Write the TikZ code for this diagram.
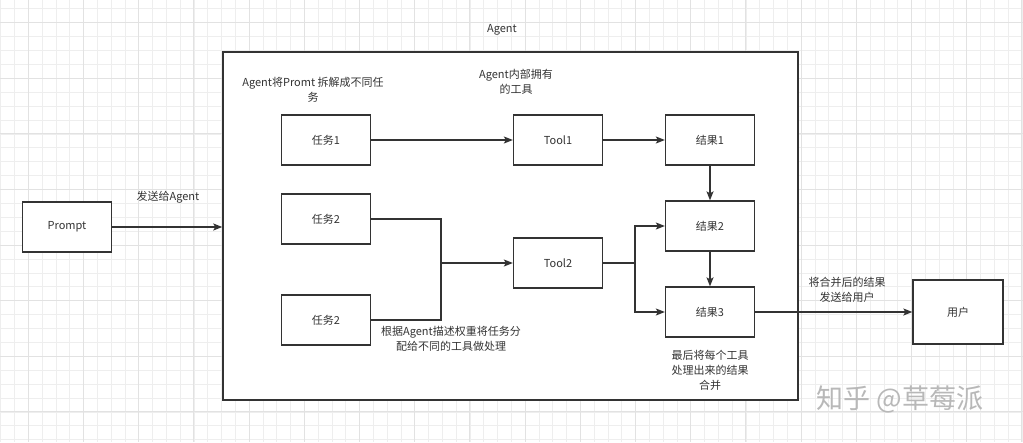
\documentclass[tikz,border=0pt]{standalone}
\usepackage{fontspec}
\setmainfont{Noto Sans CJK SC}
\usetikzlibrary{arrows.meta,calc}
\definecolor{ink}{HTML}{333333}
\definecolor{gridminor}{HTML}{EEEEEE}
\definecolor{gridmajor}{HTML}{E2E2E2}
\tikzset{
  box/.style={draw=ink,line width=1.3pt,fill=white,minimum width=89pt,minimum height=50pt,inner sep=0pt,text=ink,font=\fontsize{11}{13}\selectfont},
  lbl/.style={text=ink,font=\fontsize{11}{15}\selectfont,align=center,inner sep=0pt},
  conn/.style={draw=ink,line width=1.3pt},
  arr/.style={conn,-{Stealth[length=9pt,width=7pt,inset=2pt]}},
}
\begin{document}
\begin{tikzpicture}[x=1pt,y=-1pt]
\useasboundingbox (0,0) rectangle (1023,442);
\fill[white] (0,0) rectangle (1023,442);
% grid
\foreach \i in {-2,...,72} {
  \pgfmathsetmacro{\xx}{28.3+13.8*\i}
  \draw[gridminor,line width=0.8pt] (\xx,0) -- (\xx,442);
}
\foreach \i in {-1,...,31} {
  \pgfmathsetmacro{\yy}{22.7+13.9*\i}
  \draw[gridminor,line width=0.8pt] (0,\yy) -- (1023,\yy);
}
\foreach \i in {0,...,18} {
  \pgfmathsetmacro{\xx}{28.3+55.2*\i}
  \draw[gridmajor,line width=0.9pt] (\xx,0) -- (\xx,442);
}
\foreach \i in {0,...,7} {
  \pgfmathsetmacro{\yy}{22.7+55.6*\i}
  \draw[gridmajor,line width=0.9pt] (0,\yy) -- (1023,\yy);
}
% outer agent box
\node[draw=ink,line width=1.5pt,fill=white,minimum width=575pt,minimum height=348pt,inner sep=0pt] (agent) at (510.5,226) {};
\node[lbl] (agentlbl) at (502,30) {Agent};
% boxes
\node[box] (prompt) at (67,227) {Prompt};
\node[box] (t1) at (326,140) {任务1};
\node[box] (t2) at (326,219) {任务2};
\node[box] (t3) at (326,320) {任务2};
\node[box] (tool1) at (558,140) {Tool1};
\node[box] (tool2) at (558,263) {Tool2};
\node[box] (r1) at (710,140) {结果1};
\node[box] (r2) at (710,226) {结果2};
\node[box] (r3) at (710,312) {结果3};
\node[box,minimum width=90pt,minimum height=64pt] (user) at (958,312) {用户};
% labels
\node[lbl] (l1) at (168,197) {发送给Agent};
\node[lbl] (l2) at (313,90) {Agent将Promt 拆解成不同任\\务};
\node[lbl] (l3) at (516,82) {Agent内部拥有\\的工具};
\node[lbl] (l4) at (451,338.5) {根据Agent描述权重将任务分\\配给不同的工具做处理};
\node[lbl] (l5) at (710,370) {最后将每个工具\\处理出来的结果\\合并};
\node[lbl] (l6) at (847,290) {将合并后的结果\\发送给用户};
\node[text=black!28,font=\fontsize{27}{30}\selectfont,inner sep=0pt] (wm) at (900,399) {知乎 @草莓派};
% connectors
\coordinate (j1) at (441,263);
\coordinate (j2) at (635,263);
\draw[arr] (prompt) -- (prompt -| agent.west);
\draw[arr] (t1) -- (tool1);
\draw[arr] (tool1) -- (r1);
\draw[conn] (t2.east) -| (j1);
\draw[conn] (t3.east) -| (j1);
\draw[arr] (j1) -- (tool2.west);
\draw[conn] (tool2.east) -- (j2);
\draw[arr] (j2) |- (r2.west);
\draw[arr] (j2) |- (r3.west);
\draw[arr] (r1) -- (r2);
\draw[arr] (r2) -- (r3);
\draw[arr] (r3) -- (r3 -| user.west);
\end{tikzpicture}
\end{document}
